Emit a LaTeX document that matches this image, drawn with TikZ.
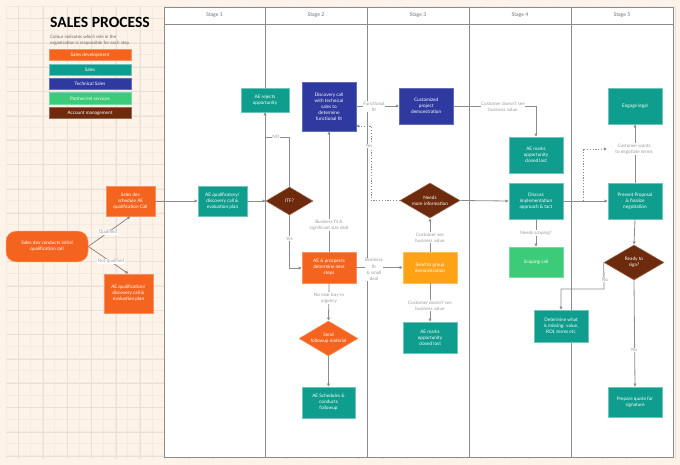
\documentclass[tikz,border=0pt]{standalone}
\usepackage{fontspec}
\setmainfont{Lato}
\newfontfamily\titlefont{Carlito}
\usetikzlibrary{arrows.meta,shapes.geometric}
\definecolor{pagebg}{HTML}{FDF3E8}
\definecolor{gridmaj}{HTML}{E9E0DA}
\definecolor{gridmin}{HTML}{F5EBE2}
\definecolor{cOrange}{HTML}{F4641E}
\definecolor{cTeal}{HTML}{0F9E8D}
\definecolor{cNavy}{HTML}{2E3A9F}
\definecolor{cGreen}{HTML}{3CCB78}
\definecolor{cBrown}{HTML}{6E2A0D}
\definecolor{cAmber}{HTML}{FFA216}
\definecolor{cLine}{HTML}{8C8C8C}
\definecolor{cLab}{HTML}{9A9A9A}
\tikzset{
  x=1pt,y=-1pt,
  basebox/.style={rectangle,inner sep=0pt,text=white,align=center,font=\fontsize{4.7}{6}\selectfont,line width=.5pt},
  orangebox/.style={basebox,fill=cOrange,draw=cOrange!70!white},
  tealbox/.style={basebox,fill=cTeal,draw=cTeal!60!white},
  navybox/.style={basebox,fill=cNavy,draw=cNavy!75!white},
  greenbox/.style={basebox,fill=cGreen,draw=cGreen!70!white},
  amberbox/.style={basebox,fill=cAmber,draw=cAmber!70!white},
  brownbox/.style={basebox,fill=cBrown,draw=cBrown!70!white},
  dia/.style={diamond,aspect=1.7,inner sep=0pt,text=white,align=center,font=\fontsize{4.7}{6}\selectfont},
  conn/.style={draw=cLine,line width=.8pt,-{Latex[length=3.2pt,width=3.4pt]}},
  dotconn/.style={conn,dash pattern=on 1.2pt off 1.6pt},
  lab/.style={fill=white,inner sep=.6pt,text=cLab,align=center,font=\fontsize{4.6}{6.2}\selectfont},
  stagehead/.style={text=black!55,font=\fontsize{5.2}{6}\selectfont},
  panelline/.style={draw=black!45,line width=.8pt}
}
\begin{document}
\begin{tikzpicture}
\useasboundingbox (0,0) rectangle (680,465);
\fill[pagebg] (0,0) rectangle (680,465);
% background grid
\foreach \i in {0,...,54}{
  \draw[gridmin,line width=.5pt] ({6+\i*12.15},6) -- ({6+\i*12.15},459);
}
\foreach \i in {0,...,37}{
  \draw[gridmin,line width=.5pt] (6,{6+\i*12.15}) -- (672,{6+\i*12.15});
}
\foreach \i in {0,...,27}{
  \draw[gridmaj,line width=.5pt] ({18.7+\i*24.3},6) -- ({18.7+\i*24.3},459);
}
\foreach \i in {0,...,18}{
  \draw[gridmaj,line width=.5pt] (6,{18.7+\i*24.3}) -- (672,{18.7+\i*24.3});
}
% swimlane panel
\fill[white] (164.5,7) rectangle (673,457.5);
\draw[panelline] (164.5,7) rectangle (673,457.5);
\draw[panelline] (164.5,24.5) -- (673,24.5);
\foreach \x in {265,367,469,571}{\draw[panelline] (\x,7) -- (\x,457.5);}
\node[stagehead] (s1) at (214.5,15.5) {Stage 1};
\node[stagehead] (s2) at (316,15.5) {Stage 2};
\node[stagehead] (s3) at (418,15.5) {Stage 3};
\node[stagehead] (s4) at (520,15.5) {Stage 4};
\node[stagehead] (s5) at (622,15.5) {Stage 5};
% title and legend
\node[anchor=center,font=\titlefont\bfseries\fontsize{15.6}{18}\selectfont,text=black] (title) at (100,22.5) {SALES PROCESS};
\node[anchor=north west,inner sep=0pt,align=left,text=black!60,font=\fontsize{4.5}{6.2}\selectfont] (desc) at (50,34.5) {Colour indicates which role in the\\organization is responsible for each step};
\node[orangebox,minimum width=82,minimum height=11.5] (lg1) at (90,55) {Sales development};
\node[tealbox,minimum width=82,minimum height=11.5] (lg2) at (90,69.7) {Sales};
\node[navybox,minimum width=82,minimum height=11.5] (lg3) at (90,84) {Technical Sales};
\node[greenbox,minimum width=82,minimum height=11.5] (lg4) at (90,98.5) {Partner/rel services};
\node[brownbox,minimum width=82,minimum height=11.5] (lg5) at (90,113) {Account management};
% nodes
\node[orangebox,rounded corners=10pt,minimum width=82,minimum height=30.5] (start) at (47,246.5) {Sales dev conducts initial\\qualification call};
\node[orangebox,minimum width=49,minimum height=30] (sd) at (130.5,201) {Sales dev\\schedule AE\\qualification Call};
\node[orangebox,minimum width=49,minimum height=39] (aeq) at (128.5,293.5) {AE qualification/\\discovery call \&\\evaluation plan};
\node[tealbox,minimum width=49,minimum height=30] (aed) at (222.5,201) {AE qualificatory/\\discovery call \&\\evaluation plan};
\node[tealbox,minimum width=48,minimum height=24] (rej) at (265,100) {AE rejects\\opportunity};
\node[navybox,minimum width=54,minimum height=49] (disc) at (329,106.5) {Discovery call\\with technical\\sales to\\determine\\functional fit};
\node[navybox,minimum width=53.5,minimum height=36] (cust) at (426.2,106) {Customized\\project\\demonstration};
\node[brownbox,dia,minimum width=47,minimum height=28] (itf) at (289.5,201) {ITF?};
\node[brownbox,dia,minimum width=60,minimum height=35] (need) at (430,200.5) {Needs\\more information};
\node[orangebox,minimum width=54,minimum height=31] (next) at (329,267.5) {AE \& prospects\\determine next\\steps};
\node[amberbox,minimum width=54,minimum height=31] (grp) at (430,267.5) {Send to group\\demonstration};
\node[orangebox,dia,minimum width=59,minimum height=35] (follow) at (328.5,338.5) {Send\\followup material};
\node[tealbox,minimum width=54,minimum height=31] (lost2) at (430,337.5) {AE marks\\opportunity\\closed lost};
\node[tealbox,minimum width=53.5,minimum height=31] (sched) at (328.5,402.5) {AE Schedules \&\\conducts\\followup};
\node[tealbox,minimum width=54,minimum height=36] (lost1) at (536,155) {AE marks\\opportunity\\closed lost};
\node[tealbox,minimum width=54,minimum height=36] (impl) at (536,201) {Discuss\\implementation\\approach \& tact};
\node[greenbox,minimum width=54,minimum height=30] (scope) at (536,262) {Scoping call};
\node[tealbox,minimum width=54,minimum height=36] (legal) at (635,106) {Engage legal};
\node[tealbox,minimum width=54,minimum height=36] (prop) at (635,201) {Present Proposal\\\& finalize\\negotiation};
\node[brownbox,dia,minimum width=60,minimum height=35] (ready) at (634,262.5) {Ready to\\sign?};
\node[tealbox,minimum width=54,minimum height=32] (deter) at (561,326) {Determine what\\is missing: value,\\ROI, terms etc};
\node[tealbox,minimum width=54,minimum height=30] (quote) at (635,402) {Prepare quote for\\signature};
% connector waypoints
\coordinate (b1) at (289.5,137);
\coordinate (b2) at (289.5,268);
\coordinate (b3) at (536,106);
\coordinate (b4) at (371,200.5);
\coordinate (b5) at (371,126);
\coordinate (b6) at (356,126);
\coordinate (b7) at (583,201);
\coordinate (b8) at (583,149);
\coordinate (b9) at (607,149);
\coordinate (b10) at (604,289);
\coordinate (b11) at (561,289);
% connectors
\draw[conn] (start.east) -- (sd.south);
\draw[conn] (start.east) -- (aeq.north);
\draw[conn] (sd) -- (aed);
\draw[conn] (aed) -- (itf);
\draw[conn] (itf.north) -- (b1) -| (rej.south);
\draw[conn] (itf.south) -- (b2) -- (b2 -| next.west);
\draw[conn] (next.north) -- (disc.south);
\draw[conn] (next) -- (grp);
\draw[conn] (grp.north) -- (need.south);
\draw[conn] (grp.south) -- (lost2.north);
\draw[conn] (next.south) -- (follow.north);
\draw[conn] (follow.south) -- (sched.north);
\draw[conn] (disc.east |- cust.west) -- (cust.west);
\draw[conn] (cust.east) -- (b3) -- (lost1.north);
\draw[dotconn] (need.west) -- (b4) -- (b5) -- (b6);
\draw[conn] (need.east) -- (impl.west);
\draw[conn] (impl) -- (prop);
\draw[dotconn] (b7) -- (b8) -- (b9);
\draw[conn] (impl.south) -- (scope.north);
\draw[conn] (prop.north) -- (legal.south);
\draw[conn] (prop.south) -- (ready.north);
\draw[conn] (ready.south) -- (quote.north);
\draw[conn] (ready.west) -- (b10) -- (b11) -- (deter.north);
% connector labels
\node[lab] (l1) at (108,232.5) {Qualified};
\node[lab] (l2) at (111,261.5) {Not qualified};
\node[lab] (l3) at (276,136.5) {NO};
\node[lab] (l4) at (289.5,238.5) {Yes};
\node[lab] (l5) at (329,225) {Business fit \&\\significant size deal};
\node[lab] (l6) at (374,269.5) {Business\\fit\\\& small\\deal};
\node[lab] (l7) at (430,237.5) {Customer see\\business value};
\node[lab] (l8) at (430,305.5) {Customer doesn't see\\business value};
\node[lab] (l9) at (329,298) {No near buy-in\\urgency};
\node[lab] (l10) at (374,106.5) {Functional\\fit};
\node[lab] (l11) at (503,106.5) {Customer doesn't see\\business value};
\node[lab] (l12) at (369,146) {Yes};
\node[lab] (l13) at (634,149) {Customer wants\\to negotiate terms};
\node[lab] (l14) at (536,233) {Needs scoping?};
\node[lab] (l15) at (605,280) {No};
\node[lab] (l16) at (634,350) {Yes};
\end{tikzpicture}
\end{document}
